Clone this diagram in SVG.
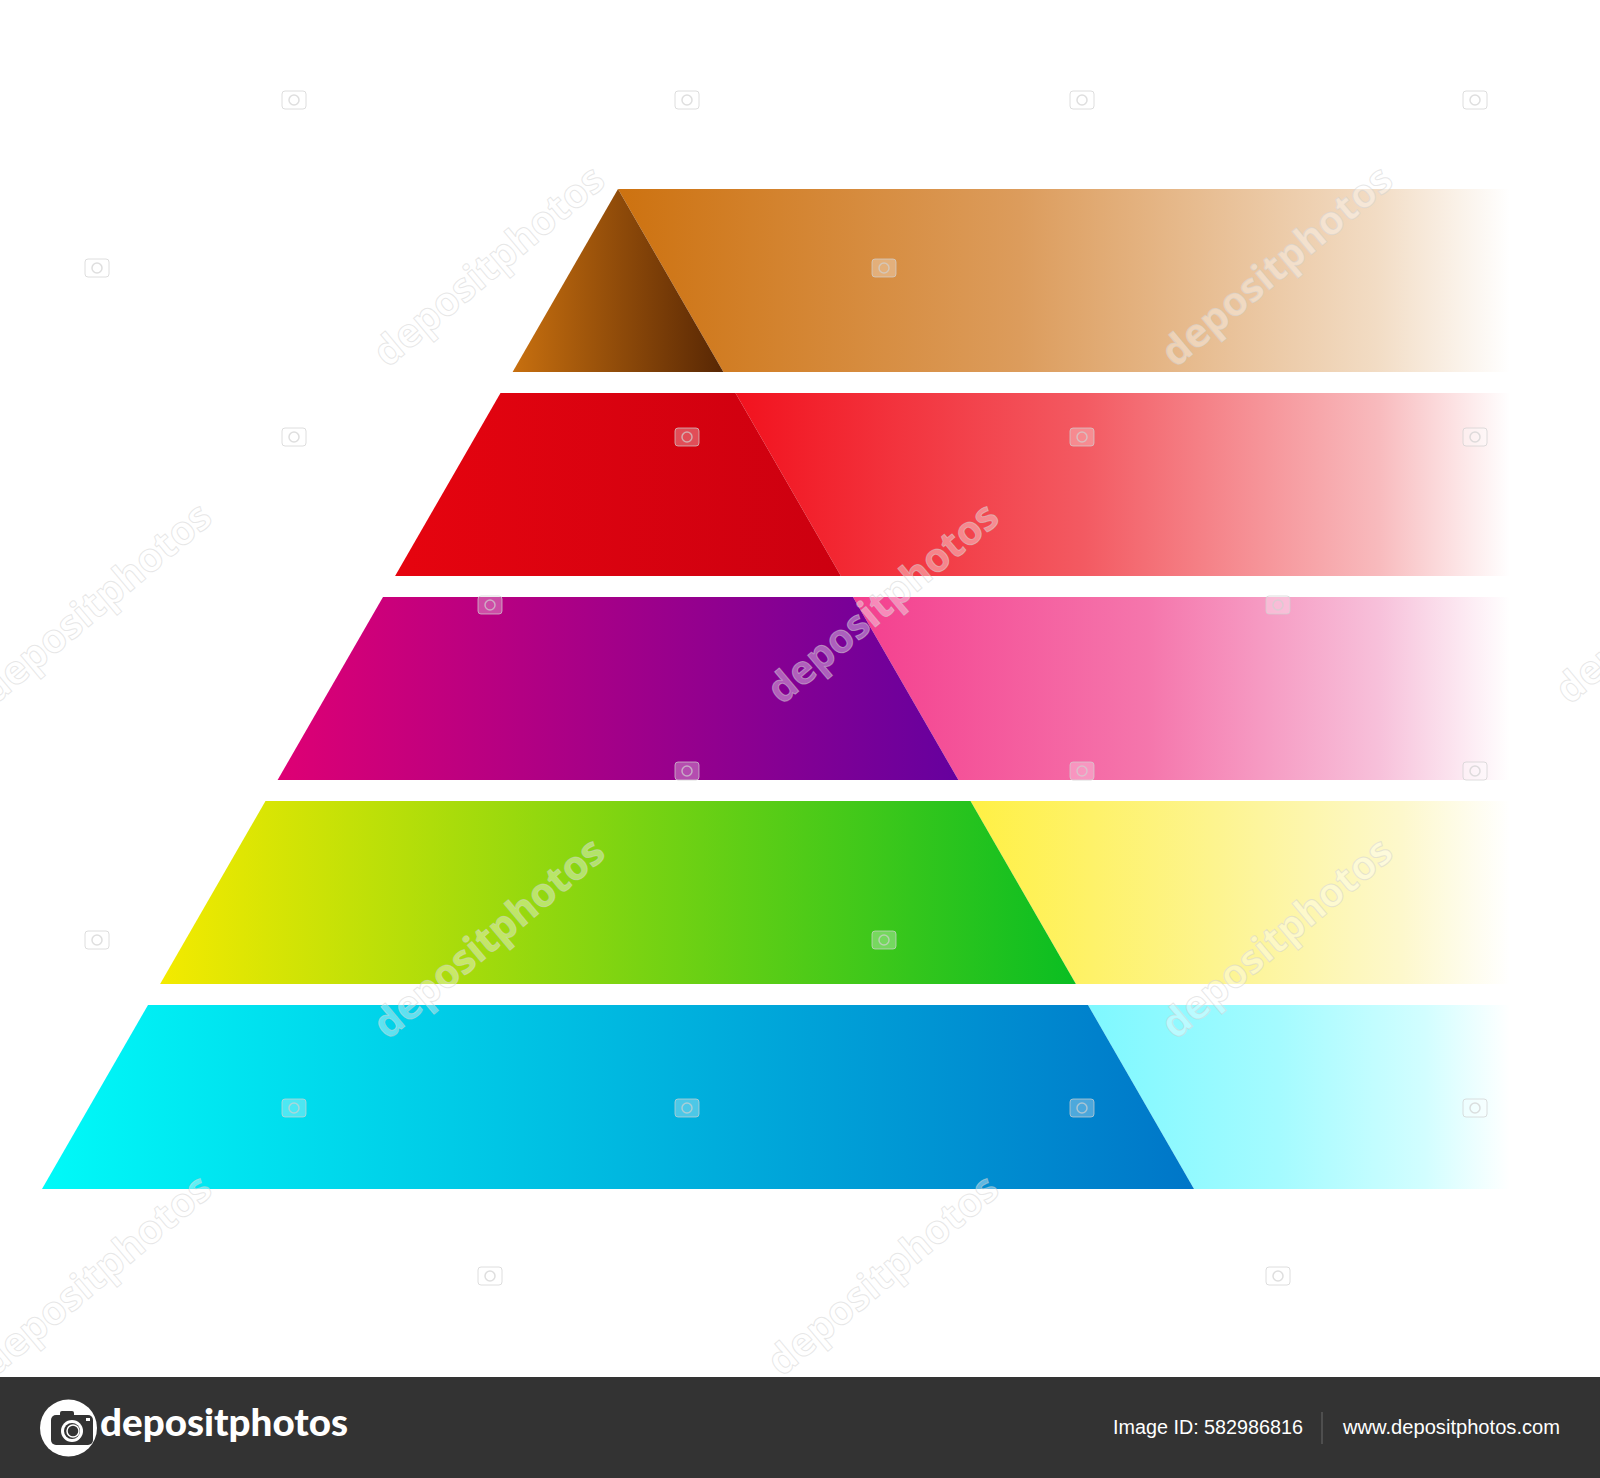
<svg xmlns="http://www.w3.org/2000/svg" width="1600" height="1478" viewBox="0 0 1600 1478">
<defs>
<style>
.wm{font-family:"Open Sans","Liberation Sans",sans-serif;font-weight:700;font-size:40px;fill:#ffffff;fill-opacity:0.4;stroke:#cfcfcf;stroke-opacity:0.5;stroke-width:1;text-anchor:middle}
.ft{font-family:"Liberation Sans",Arial,sans-serif;font-size:20px;fill:#ffffff}
</style>
<linearGradient id="t1" gradientUnits="userSpaceOnUse" x1="512" y1="0" x2="723" y2="0"><stop offset="0" stop-color="#c8700f"/><stop offset="1" stop-color="#582704"/></linearGradient>
<linearGradient id="t2" gradientUnits="userSpaceOnUse" x1="395" y1="0" x2="841" y2="0"><stop offset="0" stop-color="#e6040f"/><stop offset="1" stop-color="#cc0010"/></linearGradient>
<linearGradient id="t3" gradientUnits="userSpaceOnUse" x1="278" y1="0" x2="958" y2="0"><stop offset="0" stop-color="#de0074"/><stop offset="1" stop-color="#66009e"/></linearGradient>
<linearGradient id="t4" gradientUnits="userSpaceOnUse" x1="160" y1="0" x2="1076" y2="0"><stop offset="0" stop-color="#f4ea00"/><stop offset="1" stop-color="#0abe22"/></linearGradient>
<linearGradient id="t5" gradientUnits="userSpaceOnUse" x1="42" y1="0" x2="1194" y2="0"><stop offset="0" stop-color="#00faf8"/><stop offset="1" stop-color="#0076c8"/></linearGradient>
<linearGradient id="b1" gradientUnits="userSpaceOnUse" x1="618" y1="0" x2="1510" y2="0"><stop offset="0" stop-color="#cd7210"/><stop offset="0.45" stop-color="#dc9c5c"/><stop offset="0.85" stop-color="#f2dcc4"/><stop offset="1" stop-color="#ffffff"/></linearGradient>
<linearGradient id="b2" gradientUnits="userSpaceOnUse" x1="736" y1="0" x2="1510" y2="0"><stop offset="0" stop-color="#f2121e"/><stop offset="0.45" stop-color="#f35a62"/><stop offset="0.83" stop-color="#f8babd"/><stop offset="1" stop-color="#ffffff"/></linearGradient>
<linearGradient id="b3" gradientUnits="userSpaceOnUse" x1="853" y1="0" x2="1510" y2="0"><stop offset="0" stop-color="#f43f8e"/><stop offset="0.45" stop-color="#f576ac"/><stop offset="0.8" stop-color="#f7c0da"/><stop offset="1" stop-color="#ffffff"/></linearGradient>
<linearGradient id="b4" gradientUnits="userSpaceOnUse" x1="970" y1="0" x2="1510" y2="0"><stop offset="0" stop-color="#fff044"/><stop offset="0.45" stop-color="#fdf48e"/><stop offset="0.8" stop-color="#fdf8cc"/><stop offset="1" stop-color="#ffffff"/></linearGradient>
<linearGradient id="b5" gradientUnits="userSpaceOnUse" x1="1088" y1="0" x2="1510" y2="0"><stop offset="0" stop-color="#7ef8ff"/><stop offset="0.45" stop-color="#a4fbff"/><stop offset="0.8" stop-color="#d2feff"/><stop offset="1" stop-color="#ffffff"/></linearGradient>
<symbol id="cam" viewBox="0 0 26 22"><rect x="1" y="3" width="24" height="18" rx="3" fill="#ffffff" fill-opacity="0.3" stroke="#d0d0d0" stroke-opacity="0.7" stroke-width="1"/><circle cx="13" cy="12" r="5" fill="none" stroke="#d0d0d0" stroke-opacity="0.7" stroke-width="1.5"/></symbol>
</defs>
<rect width="1600" height="1478" fill="#ffffff"/>

<g id="layer1">
<polygon points="618,189 1510,189 1510,372 723.4,372" fill="url(#b1)"/>
<polygon points="618,189 723.4,372 512.6,372" fill="url(#t1)"/>
</g>
<g id="layer2">
<polygon points="735.5,393 1510,393 1510,576 840.9,576" fill="url(#b2)"/>
<polygon points="500.5,393 735.5,393 840.9,576 395.1,576" fill="url(#t2)"/>
</g>
<g id="layer3">
<polygon points="853,597 1510,597 1510,780 958.4,780" fill="url(#b3)"/>
<polygon points="383,597 853,597 958.4,780 277.6,780" fill="url(#t3)"/>
</g>
<g id="layer4">
<polygon points="970.5,801 1510,801 1510,984 1075.9,984" fill="url(#b4)"/>
<polygon points="265.5,801 970.5,801 1075.9,984 160.1,984" fill="url(#t4)"/>
</g>
<g id="layer5">
<polygon points="1088,1005 1510,1005 1510,1189 1194,1189" fill="url(#b5)"/>
<polygon points="148,1005 1088,1005 1194,1189 42,1189" fill="url(#t5)"/>
</g>

<g id="watermarks">
<text class="wm" transform="translate(490,267) rotate(-40)" y="12">depositphotos</text>
<text class="wm" transform="translate(1278,267) rotate(-40)" y="12">depositphotos</text>
<text class="wm" transform="translate(97,604) rotate(-40)" y="12">depositphotos</text>
<text class="wm" transform="translate(884,604) rotate(-40)" y="12">depositphotos</text>
<text class="wm" transform="translate(1672,604) rotate(-40)" y="12">depositphotos</text>
<text class="wm" transform="translate(490,939) rotate(-40)" y="12">depositphotos</text>
<text class="wm" transform="translate(1278,939) rotate(-40)" y="12">depositphotos</text>
<text class="wm" transform="translate(97,1276) rotate(-40)" y="12">depositphotos</text>
<text class="wm" transform="translate(884,1276) rotate(-40)" y="12">depositphotos</text>
<use href="#cam" x="281" y="88" width="26" height="22"/>
<use href="#cam" x="674" y="88" width="26" height="22"/>
<use href="#cam" x="1069" y="88" width="26" height="22"/>
<use href="#cam" x="1462" y="88" width="26" height="22"/>
<use href="#cam" x="84" y="256" width="26" height="22"/>
<use href="#cam" x="871" y="256" width="26" height="22"/>
<use href="#cam" x="281" y="425" width="26" height="22"/>
<use href="#cam" x="674" y="425" width="26" height="22"/>
<use href="#cam" x="1069" y="425" width="26" height="22"/>
<use href="#cam" x="1462" y="425" width="26" height="22"/>
<use href="#cam" x="477" y="593" width="26" height="22"/>
<use href="#cam" x="1265" y="593" width="26" height="22"/>
<use href="#cam" x="674" y="759" width="26" height="22"/>
<use href="#cam" x="1069" y="759" width="26" height="22"/>
<use href="#cam" x="1462" y="759" width="26" height="22"/>
<use href="#cam" x="84" y="928" width="26" height="22"/>
<use href="#cam" x="871" y="928" width="26" height="22"/>
<use href="#cam" x="281" y="1096" width="26" height="22"/>
<use href="#cam" x="674" y="1096" width="26" height="22"/>
<use href="#cam" x="1069" y="1096" width="26" height="22"/>
<use href="#cam" x="1462" y="1096" width="26" height="22"/>
<use href="#cam" x="477" y="1264" width="26" height="22"/>
<use href="#cam" x="1265" y="1264" width="26" height="22"/>
</g>

<g id="footer">
<rect x="0" y="1377" width="1600" height="101" fill="#333333"/>
<circle cx="68.5" cy="1428" r="28.5" fill="#ffffff"/>
<rect x="51" y="1415" width="42" height="30" rx="5" fill="#333333"/>
<rect x="60" y="1411" width="14" height="6" rx="2" fill="#333333"/>
<circle cx="72" cy="1431" r="11" fill="#ffffff"/>
<circle cx="72" cy="1431" r="8" fill="#333333"/>
<circle cx="73" cy="1431" r="6" fill="none" stroke="#ffffff" stroke-width="1.5"/>
<rect x="86" y="1418" width="4" height="3" fill="#ffffff"/>
<text x="100" y="1436" font-family="Lato,'Open Sans',sans-serif" font-weight="900" font-size="38" fill="#ffffff" textLength="248" lengthAdjust="spacingAndGlyphs">depositphotos</text>
<text class="ft" x="1113" y="1434" textLength="190" lengthAdjust="spacingAndGlyphs">Image ID: 582986816</text>
<line x1="1322" y1="1412" x2="1322" y2="1444" stroke="#6a6a6a" stroke-width="1"/>
<text class="ft" x="1343" y="1434" textLength="217" lengthAdjust="spacingAndGlyphs">www.depositphotos.com</text>
</g>
</svg>
